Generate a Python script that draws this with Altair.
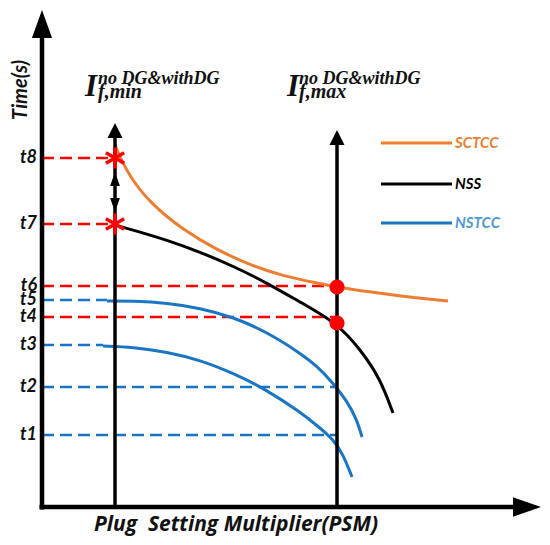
import altair as alt
import pandas as pd

# time levels on the vertical axis
tick_labels = ["t1", "t2", "t3", "t4", "t5", "t6", "t7", "t8"]
tick_levels = [1.44, 2.40, 3.24, 3.80, 4.14, 4.42, 5.66, 6.98]
guide_end = [5.90, 5.90, 1.22, 5.90, 1.30, 5.90, 1.46, 1.46]
guide_kind = ["blue", "blue", "blue", "red", "blue", "red", "red", "red"]

# fault current limits (PSM)
i_min = 1.46
i_max = 5.90

# curves
sctcc_x = [1.46, 1.56, 1.76, 2.16, 2.82, 3.50, 4.16, 4.82, 5.50, 5.90, 6.56, 7.16, 8.12]
sctcc_y = [7.24, 7.00, 6.60, 6.08, 5.54, 5.14, 4.84, 4.62, 4.48, 4.40, 4.30, 4.22, 4.12]

nss_x = [1.46, 1.82, 2.50, 3.16, 3.82, 4.50, 5.16, 5.90, 6.36, 6.76, 7.02]
nss_y = [5.64, 5.54, 5.34, 5.10, 4.82, 4.48, 4.10, 3.68, 3.16, 2.58, 1.88]

nstcc_up_x = [1.30, 1.82, 2.50, 3.16, 3.82, 4.50, 5.16, 5.50, 5.82, 6.10, 6.30, 6.40]
nstcc_up_y = [4.12, 4.12, 4.08, 3.98, 3.80, 3.50, 3.08, 2.82, 2.48, 2.12, 1.74, 1.40]

nstcc_lo_x = [1.22, 1.82, 2.50, 3.16, 3.82, 4.50, 5.16, 5.50, 5.82, 6.02, 6.20]
nstcc_lo_y = [3.22, 3.20, 3.10, 2.94, 2.68, 2.34, 1.90, 1.63, 1.36, 1.06, 0.60]

# legend
legend_names = ["SCTCC", "NSS", "NSTCC"]
legend_y = [7.28, 6.46, 5.68]
legend_line_colors = ["#ED7D31", "#000000", "#1A75C4"]
legend_text_colors = ["#ED7D31", "#000000", "#4F97D8"]

# operating points
star_y = [6.98, 5.66]
dot_y = [4.40, 3.68]

x_scale = alt.Scale(domain=[-0.68, 10])
y_scale = alt.Scale(domain=[-0.6, 9.98])
X = lambda f: alt.X(f, type="quantitative", scale=x_scale, axis=None)
Y = lambda f: alt.Y(f, type="quantitative", scale=y_scale, axis=None)

label_font = "Lato"
title_font = "Open Sans"
math_font = "Liberation Serif"

# dashed guides
guides = pd.DataFrame({"y": tick_levels, "x0": 0.0, "x1": guide_end, "kind": guide_kind})
guide_lines = alt.Chart(guides).mark_rule(strokeDash=[12, 6], strokeWidth=2.5).encode(
    x=X("x0"), x2="x1", y=Y("y"),
    color=alt.Color("kind:N", scale=alt.Scale(domain=["red", "blue"], range=["#FF0000", "#1A75C4"]), legend=None)
)

# characteristic curves
rows = []
for name, xs, ys in [("SCTCC", sctcc_x, sctcc_y), ("NSS", nss_x, nss_y),
                     ("NSTCC1", nstcc_up_x, nstcc_up_y), ("NSTCC2", nstcc_lo_x, nstcc_lo_y)]:
    for i, (a, b) in enumerate(zip(xs, ys)):
        rows.append({"curve": name, "x": a, "y": b, "o": i})
curves_df = pd.DataFrame(rows)
curves = alt.Chart(curves_df).mark_line(strokeWidth=3, interpolate="basis").encode(
    x=X("x"), y=Y("y"), order="o:Q", detail="curve:N",
    color=alt.Color("curve:N", scale=alt.Scale(domain=["SCTCC", "NSS", "NSTCC1", "NSTCC2"],
                                                range=["#ED7D31", "#000000", "#1A75C4", "#1A75C4"]), legend=None)
)

# vertical lines at Imin / Imax
vlines_df = pd.DataFrame({"x": [i_min, i_max], "y0": [0.0, 0.0], "y1": [7.5, 7.36]})
vlines = alt.Chart(vlines_df).mark_rule(strokeWidth=3.5, color="#000").encode(x=X("x"), y=Y("y0"), y2="y1")

# main axes
axes_df = pd.DataFrame({"x0": [0.0, -0.05], "x1": [0.0, 9.6], "y0": [-0.05, 0.0], "y1": [9.6, 0.0]})
axes = alt.Chart(axes_df).mark_rule(strokeWidth=4.5, color="#000").encode(
    x=X("x0"), x2="x1", y=Y("y0"), y2="y1")

# arrow heads
arrow_paths = {
    "axis_up": "M0,-1L0.72,1L-0.72,1Z",
    "axis_right": "M1,0L-1,-0.7L-1,0.7Z",
    "up": "M0,-1L1,1L-1,1Z",
    "up_small": "M0,-1L0.7,1L-0.7,1Z",
    "down_small": "M0,1L0.7,-1L-0.7,-1Z",
}
arrows_df = pd.DataFrame({
    "x": [0.0, 9.70, i_min, i_max, i_min, i_min],
    "y": [9.66, 0.0, 7.53, 7.39, 6.56, 6.04],
    "kind": ["axis_up", "axis_right", "up", "up", "up_small", "down_small"],
    "s": [784, 784, 225, 225, 196, 196],
})
arrows = alt.Chart(arrows_df).mark_point(filled=True, opacity=1, color="#000", strokeWidth=0).encode(
    x=X("x"), y=Y("y"),
    shape=alt.Shape("kind:N", scale=alt.Scale(domain=list(arrow_paths), range=list(arrow_paths.values())), legend=None),
    size=alt.Size("s:Q", scale=None)
)

# red markers
stars = alt.Chart(pd.DataFrame({"x": i_min, "y": star_y})).mark_point(
    shape="M0,-1L0,1M-0.87,-0.5L0.87,0.5M-0.87,0.5L0.87,-0.5",
    size=440, strokeWidth=3.5, color="#FF0000", opacity=1
).encode(x=X("x"), y=Y("y"))
dots = alt.Chart(pd.DataFrame({"x": i_max, "y": dot_y})).mark_point(
    shape="circle", size=230, filled=True, color="#FF0000", opacity=1
).encode(x=X("x"), y=Y("y"))

# tick labels
ticks = alt.Chart(pd.DataFrame({"y": tick_levels, "t": tick_labels, "x": 0.0})).mark_text(
    align="right", baseline="middle", dx=-5, font=label_font, fontSize=18,
    fontWeight="bold", fontStyle="italic", color="#111"
).encode(x=X("x"), y=Y("y"), text="t:N")

# legend
leg_df = pd.DataFrame({"name": legend_names, "y": legend_y, "x0": 6.78, "x1": 8.2, "xt": 8.26,
                       "lc": legend_line_colors, "tc": legend_text_colors})
leg_lines = alt.Chart(leg_df).mark_rule(strokeWidth=3).encode(
    x=X("x0"), x2="x1", y=Y("y"), color=alt.Color("lc:N", scale=None))
leg_text = alt.Chart(leg_df).mark_text(
    align="left", baseline="middle", font=label_font, fontSize=15, fontWeight="bold", fontStyle="italic"
).encode(x=X("xt"), y=Y("y"), text="name:N", color=alt.Color("tc:N", scale=None))

# axis titles
y_title = alt.Chart(pd.DataFrame({"x": [-0.43], "y": [8.34], "t": ["Time(s)"]})).mark_text(
    align="center", baseline="middle", angle=270, font=label_font, fontSize=20, fontWeight="bold",
    fontStyle="italic", color="#111"
).encode(x=X("x"), y=Y("y"), text="t:N")
x_title = alt.Chart(pd.DataFrame({"x": [3.88], "y": [-0.36], "t": ["Plug \u00a0Setting Multiplier(PSM)"]})).mark_text(
    align="center", baseline="middle", font=title_font, fontSize=21, fontWeight="bold",
    fontStyle="italic", color="#111"
).encode(x=X("x"), y=Y("y"), text="t:N")

# fault current annotations
ann_big = pd.DataFrame({"x": [0.86, 4.90], "y": [8.22, 8.22], "t": ["I", "I"]})
ann_sup = pd.DataFrame({"x": [1.12, 5.14], "y": [8.47, 8.47], "t": ["no DG&withDG", "no DG&withDG"]})
ann_sub = pd.DataFrame({"x": [1.12, 5.14], "y": [8.18, 8.18], "t": ["f,min", "f,max"]})
big = alt.Chart(ann_big).mark_text(
    align="left", baseline="alphabetic", font=math_font, fontSize=31, fontWeight="bold", fontStyle="italic", color="#111"
).encode(x=X("x"), y=Y("y"), text="t:N")
sup = alt.Chart(ann_sup).mark_text(
    align="left", baseline="alphabetic", font=math_font, fontSize=18, fontWeight="bold", fontStyle="italic", color="#111"
).encode(x=X("x"), y=Y("y"), text="t:N")
sub = alt.Chart(ann_sub).mark_text(
    align="left", baseline="alphabetic", font=math_font, fontSize=20, fontWeight="bold", fontStyle="italic", color="#111"
).encode(x=X("x"), y=Y("y"), text="t:N")

chart = alt.layer(
    guide_lines, curves, vlines, axes, arrows, dots, stars, ticks, leg_lines, leg_text,
    y_title, x_title, big, sup, sub
).resolve_scale(color="independent").properties(
    width=534, height=529, autosize=alt.AutoSizeParams(type="none"), padding=0
).configure_view(stroke=None)

chart.save("out.html", embed_options={"renderer": "svg", "actions": False})
